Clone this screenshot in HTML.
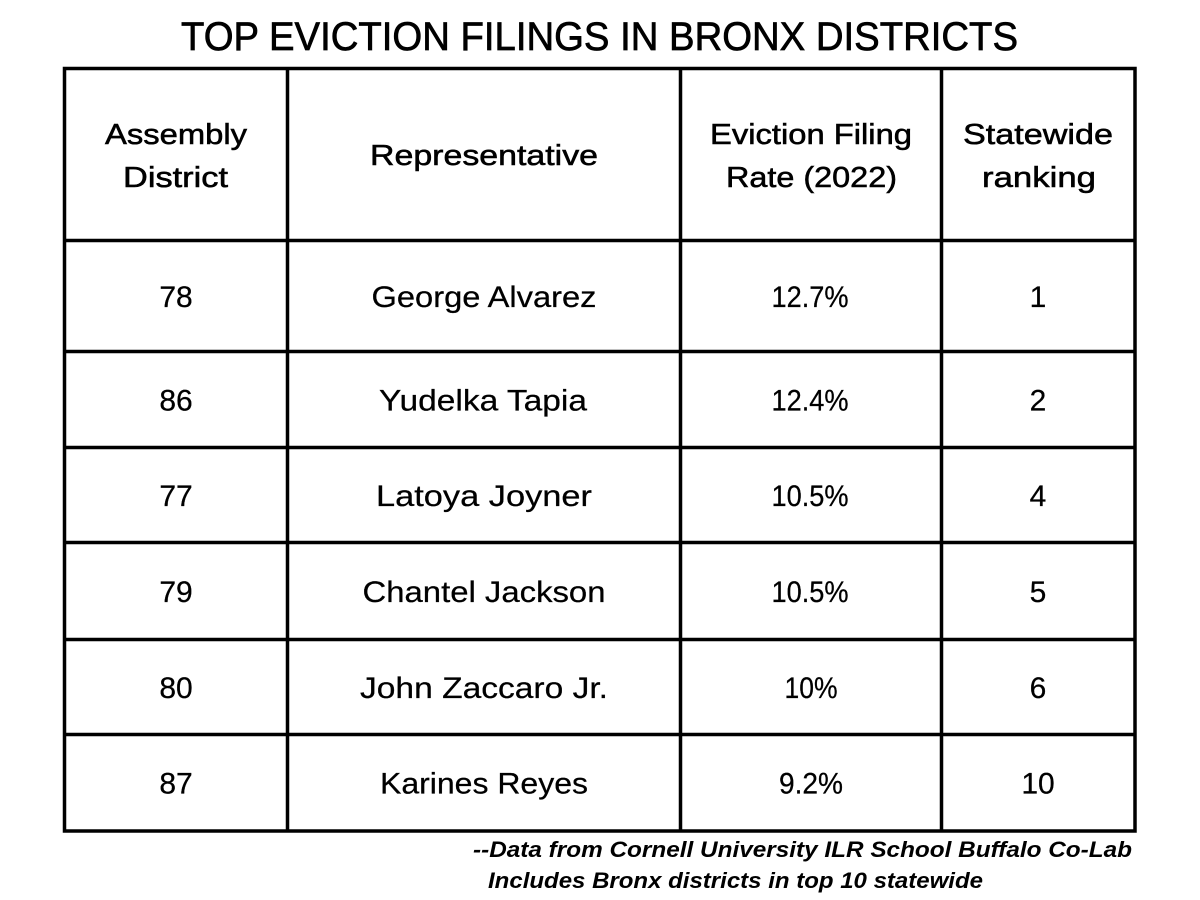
<!DOCTYPE html>
<html>
<head>
<meta charset="utf-8">
<style>
  html,body{margin:0;padding:0;background:#fff;}
  svg{display:block;}
  text{font-family:"Liberation Sans", sans-serif; fill:#000;}
  .t{font-size:40px; stroke:#000; stroke-width:0.7px;}
  .h{font-size:29px; stroke:#000; stroke-width:0.55px;}
  .d{font-size:30px; stroke:#000; stroke-width:0.25px;}
  .f{font-size:22px; font-weight:bold; font-style:italic;}
</style>
</head>
<body>
<svg width="1200" height="900" viewBox="0 0 1200 900" xmlns="http://www.w3.org/2000/svg">
  <rect x="0" y="0" width="1200" height="900" fill="#fff"/>

  <!-- Title -->
  <text class="t" x="181" y="50" textLength="837" lengthAdjust="spacingAndGlyphs">TOP EVICTION FILINGS IN BRONX DISTRICTS</text>

  <!-- Table grid -->
  <g stroke="#000" stroke-width="3.5" fill="none">
    <rect x="64.5" y="68.5" width="1070.5" height="762.5"/>
    <line x1="287.5" y1="68.5" x2="287.5" y2="831"/>
    <line x1="680.5" y1="68.5" x2="680.5" y2="831"/>
    <line x1="941.5" y1="68.5" x2="941.5" y2="831"/>
    <line x1="64.5" y1="240.5" x2="1135" y2="240.5"/>
    <line x1="64.5" y1="351.5" x2="1135" y2="351.5"/>
    <line x1="64.5" y1="447.5" x2="1135" y2="447.5"/>
    <line x1="64.5" y1="542.5" x2="1135" y2="542.5"/>
    <line x1="64.5" y1="639.5" x2="1135" y2="639.5"/>
    <line x1="64.5" y1="734.5" x2="1135" y2="734.5"/>
  </g>

  <!-- Header -->
  <text class="h" x="105" y="144" textLength="142" lengthAdjust="spacingAndGlyphs">Assembly</text>
  <text class="h" x="123" y="187" textLength="105" lengthAdjust="spacingAndGlyphs">District</text>
  <text class="h" x="370" y="165" textLength="228" lengthAdjust="spacingAndGlyphs">Representative</text>
  <text class="h" x="710" y="144" textLength="202" lengthAdjust="spacingAndGlyphs">Eviction Filing</text>
  <text class="h" x="726" y="187" textLength="171" lengthAdjust="spacingAndGlyphs">Rate (2022)</text>
  <text class="h" x="963" y="144" textLength="150" lengthAdjust="spacingAndGlyphs">Statewide</text>
  <text class="h" x="982" y="187" textLength="114" lengthAdjust="spacingAndGlyphs">ranking</text>

  <!-- Rows -->
  <g text-anchor="middle">
    <text class="d" x="176" y="307">78</text>
    <text class="d" x="484" y="307" textLength="225" lengthAdjust="spacingAndGlyphs">George Alvarez</text>
    <text class="d" x="810" y="307" textLength="77" lengthAdjust="spacingAndGlyphs">12.7%</text>
    <text class="d" x="1038" y="307">1</text>

    <text class="d" x="176" y="410.5">86</text>
    <text class="d" x="483" y="410.5" textLength="208" lengthAdjust="spacingAndGlyphs">Yudelka Tapia</text>
    <text class="d" x="810" y="410.5" textLength="77" lengthAdjust="spacingAndGlyphs">12.4%</text>
    <text class="d" x="1038" y="410.5">2</text>

    <text class="d" x="176" y="506">77</text>
    <text class="d" x="484" y="506" textLength="216" lengthAdjust="spacingAndGlyphs">Latoya Joyner</text>
    <text class="d" x="810" y="506" textLength="77" lengthAdjust="spacingAndGlyphs">10.5%</text>
    <text class="d" x="1038" y="506">4</text>

    <text class="d" x="176" y="602">79</text>
    <text class="d" x="484" y="602" textLength="243" lengthAdjust="spacingAndGlyphs">Chantel Jackson</text>
    <text class="d" x="810" y="602" textLength="77" lengthAdjust="spacingAndGlyphs">10.5%</text>
    <text class="d" x="1038" y="602">5</text>

    <text class="d" x="176" y="698">80</text>
    <text class="d" x="484" y="698" textLength="248" lengthAdjust="spacingAndGlyphs">John Zaccaro Jr.</text>
    <text class="d" x="811" y="698" textLength="53" lengthAdjust="spacingAndGlyphs">10%</text>
    <text class="d" x="1038" y="698">6</text>

    <text class="d" x="176" y="793.5">87</text>
    <text class="d" x="484" y="793.5" textLength="208" lengthAdjust="spacingAndGlyphs">Karines Reyes</text>
    <text class="d" x="811" y="793.5" textLength="64" lengthAdjust="spacingAndGlyphs">9.2%</text>
    <text class="d" x="1038" y="793.5">10</text>
  </g>

  <!-- Footer -->
  <text class="f" x="473" y="857" textLength="659" lengthAdjust="spacingAndGlyphs">--Data from Cornell University ILR School Buffalo Co-Lab</text>
  <text class="f" x="488" y="888" textLength="495" lengthAdjust="spacingAndGlyphs">Includes Bronx districts in top 10 statewide</text>
</svg>
</body>
</html>
